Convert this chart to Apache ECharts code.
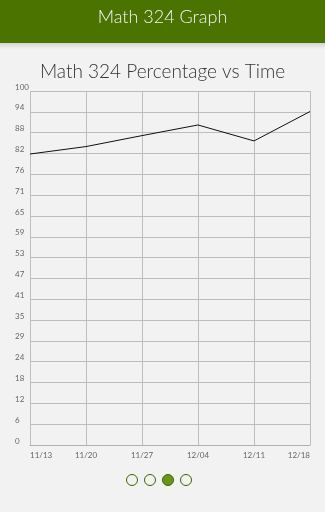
<!DOCTYPE html>
<html><head><meta charset="utf-8">
<script src="https://cdn.jsdelivr.net/npm/echarts@6/dist/echarts.min.js"></script>
<style>
html,body{margin:0;padding:0;background:#f2f2f2;width:325px;height:512px;overflow:hidden;}
#c{width:325px;height:512px;}
</style></head><body><div id="c"></div>
<script>
const categories = ['11/13','11/20','11/27','12/04','12/11','12/18'];
const percentages = [82.2, 84.3, 87.4, 90.4, 85.9, 94.2];
const yTickLabels = ['0','6','12','18','24','29','35','41','47','53','59','65','71','76','82','88','94','100'];
const pageDots = [false, false, true, false];

const chart = echarts.init(document.getElementById('c'), null, {renderer:'canvas'});
const step = 100 / (yTickLabels.length - 1);
const dotGraphics = pageDots.map((on, i) => ({
  type:'circle', shape:{cx:132 + i*18, cy:480, r:5.5},
  style:{fill: on ? '#6a9617' : '#f2f2f2', stroke:'#3d6600', lineWidth:1}
}));
chart.setOption({
  backgroundColor:'#f2f2f2',
  animation:false,
  graphic:[
    {type:'rect', shape:{x:0,y:43,width:325,height:6},
     style:{fill:new echarts.graphic.LinearGradient(0,0,0,1,[{offset:0,color:'#d4d4d4'},{offset:1,color:'#f2f2f2'}])}},
    {type:'rect', shape:{x:0,y:0,width:325,height:43}, style:{fill:'#4a7300'}},
    {type:'text', left:'center', top:8, style:{text:'Math 324 Graph', fill:'#f4f4f4', font:'300 18px Lato', letterSpacing:3}},
    ...dotGraphics
  ],
  title:{text:'Math 324 Percentage vs Time', left:'center', top:57,
    textStyle:{color:'#333', fontSize:19, fontWeight:300, fontFamily:'Lato', letterSpacing:2.3}},
  grid:{left:30, right:15, top:91, bottom:67, containLabel:false},
  xAxis:{type:'category', data:categories, boundaryGap:false,
    axisLine:{lineStyle:{color:'#b0b0b0'}}, axisTick:{show:false},
    axisLabel:{color:'#666', fontSize:8, fontFamily:'Lato', margin:6, alignMinLabel:'left', alignMaxLabel:'right'},
    splitLine:{show:true, lineStyle:{color:'#bdbdbd', width:1}}},
  yAxis:{type:'value', min:0, max:100, interval:step,
    axisLine:{show:false}, axisTick:{show:false},
    axisLabel:{color:'#666', fontSize:8, fontFamily:'Lato', margin:15, align:'left', verticalAlign:'bottom',
      formatter:(v)=>{const i=Math.round(v/step);return yTickLabels[i]!==undefined?yTickLabels[i]:'';}},
    splitLine:{show:true, lineStyle:{color:'#bdbdbd', width:1}}},
  series:[{type:'line', data:percentages, symbol:'none', lineStyle:{color:'#111', width:1}}]
});
</script></body></html>
